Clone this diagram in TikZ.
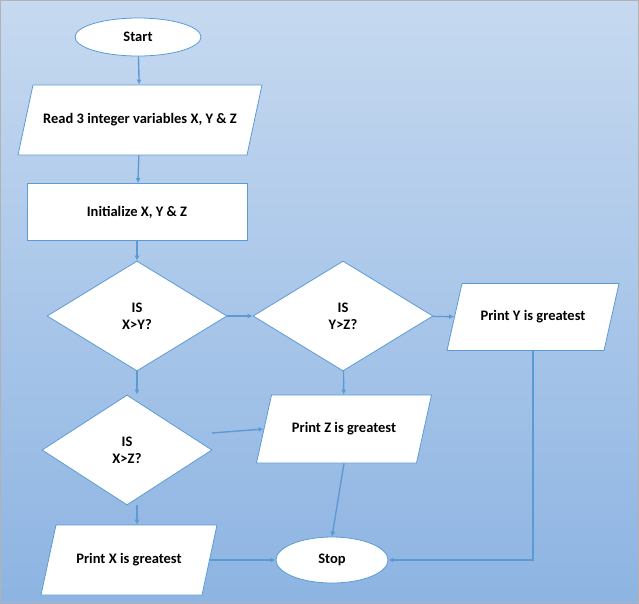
\documentclass[tikz,border=0pt]{standalone}
\usepackage{fontspec}
\setmainfont{Carlito}
\usetikzlibrary{shapes.geometric,arrows.meta}
\definecolor{ln}{HTML}{5B9BD5}
\definecolor{bgt}{HTML}{C6D9F0}
\definecolor{bgb}{HTML}{8DB4E2}
\newcommand{\mypara}[6]{% name, x, y, w, h, text
  \draw[draw=ln,fill=white,line width=0.8pt] (#2-#4/2+15,#3-#5/2) -- (#2+#4/2,#3-#5/2) -- (#2+#4/2-15,#3+#5/2) -- (#2-#4/2,#3+#5/2) -- cycle;
  \node[base,draw=none,fill=none,minimum width=#4-15,minimum height=#5] (#1) at (#2,#3) {#6};}
\begin{document}
\begin{tikzpicture}[x=1pt,y=-1pt,
  base/.style={draw=ln,fill=white,line width=0.8pt,font=\bfseries\fontsize{14.5}{17}\selectfont,align=center,inner sep=0},
  term/.style={base,ellipse},
  proc/.style={base,rectangle},
  dec/.style={base,diamond},
  arr/.style={draw=ln,line width=1.4pt,-{Latex[length=5pt,width=5pt]}}]
\useasboundingbox (0,0) rectangle (639,603);
\shade[top color=bgt,bottom color=bgb] (0,0) rectangle (639,603);
\draw[gray!60] (0.5,0.5) rectangle (638.5,602.5);
\node[term,minimum width=126,minimum height=38] (start) at (138,37) {Start};
\mypara{read}{140}{120}{244}{70}{Read 3 integer variables X, Y \& Z}
\node[proc,minimum width=220,minimum height=57] (init) at (137,212) {Initialize X, Y \& Z};
\node[dec,minimum width=180,minimum height=110] (d1) at (137,316) {IS\\X>Y?};
\node[dec,minimum width=180,minimum height=110] (d2) at (343,316) {IS\\Y>Z?};
\mypara{py}{533}{317}{172}{67}{Print Y is greatest}
\node[dec,minimum width=170,minimum height=110] (d3) at (127,450) {IS\\X>Z?};
\mypara{pz}{344}{429}{175}{68}{Print Z is greatest}
\mypara{px}{129}{560}{176}{70}{Print X is greatest}
\node[term,minimum width=112,minimum height=46] (stop) at (332,560) {Stop};
\coordinate (cy) at (533,560);
\draw[arr] (start) -- (read);
\draw[arr] (read) -- (init);
\draw[arr] (init) -- (d1);
\draw[arr] (d1) -- (d2);
\draw[arr] (d2) -- (py);
\draw[arr] (d1.south) -- (d1.south |- d3.north);
\draw[arr] (d2) -- (pz);
\draw[arr] (212,433) -- (pz.west);
\draw[arr] (d1.south |- d3.south) -- (d1.south |- px.north);
\draw[arr] (px) -- (stop);
\draw[arr] (pz.south) -- (stop.north);
\draw[arr] (py.south) -- (cy) -- (stop.east);
\end{tikzpicture}
\end{document}
